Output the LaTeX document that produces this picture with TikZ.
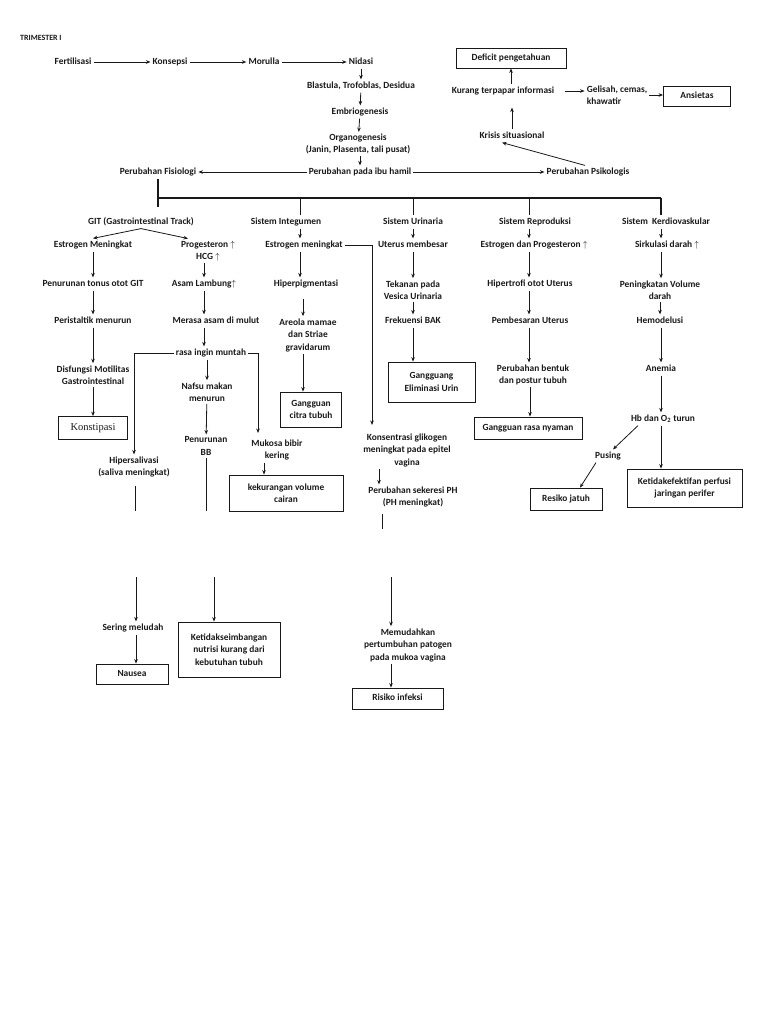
\documentclass[tikz,border=0pt]{standalone}
\usepackage{fontspec}
\setmainfont{Carlito}
\newfontfamily\serifteks{Liberation Serif}
\usetikzlibrary{arrows.meta, calc}
\definecolor{mainBlack}{gray}{0.1}

\tikzset{
  every node/.style={font=\fontsize{9.4}{12.5}\selectfont\bfseries, text=mainBlack, inner sep=2pt,
    align=center, text height=6.8pt, text depth=2pt},
  banyak/.style={text height=, text depth=},
  kotak/.style={draw=mainBlack, line width=0.8pt},
  panah/.style={->, line width=0.8pt, mainBlack},
  garis/.style={line width=0.8pt, mainBlack},
  tebal/.style={line width=1.5pt, mainBlack},
}

\begin{document}
\begin{tikzpicture}[x=1pt, y=-1pt, >={Stealth[length=4.5pt, width=3.6pt]}]
    \useasboundingbox (0,0) rectangle (768,1024);

    % judul
    \node[anchor=west, font=\fontsize{8}{10}\selectfont\bfseries] (judul) at (18,38) {TRIMESTER I};

    % alur utama
    \node (fert) at (73,62) {Fertilisasi};
    \node (kons) at (170,62) {Konsepsi};
    \node (mor) at (264,62) {Morulla};
    \node (nid) at (361,62) {Nidasi};
    \node (blas) at (361,86) {Blastula, Trofoblas, Desidua};
    \node (embr) at (360,112) {Embriogenesis};
    \node[banyak, font=\fontsize{9.4}{11.5}\selectfont\bfseries] (organ) at (358,144) {Organogenesis\\(Janin, Plasenta, tali pusat)};
    \node (ibu) at (360,172) {Perubahan pada ibu hamil};
    \node (fis) at (158,172) {Perubahan Fisiologi};
    \node (psi) at (588,172) {Perubahan Psikologis};

    \draw[panah] (fert) -- (kons);
    \draw[panah] (kons) -- (mor);
    \draw[panah] (mor) -- (nid);
    \draw[panah] (nid) -- (blas);
    \draw[panah] (blas) -- (embr);
    \draw[panah] (embr) -- (organ);
    \draw[panah] (organ.south -| ibu) -- (ibu);
    \draw[panah] (ibu) -- (fis);
    \draw[panah] (ibu) -- (psi);

    % psikologis
    \node (krisis) at (512,136) {Krisis situasional};
    \node (kurang) at (503,91) {Kurang terpapar informasi};
    \node[kotak, minimum width=110pt, minimum height=20pt] (deficit) at (511,58) {Deficit pengetahuan};
    \node[banyak, align=left] (gelisah) at (617,95) {Gelisah, cemas,\\khawatir};
    \node[kotak, minimum width=67pt, minimum height=20pt] (ansietas) at (697,96) {Ansietas};

    \draw[panah] ([xshift=-3pt]psi.north) -- ([xshift=-10pt]krisis.south);
    \draw[panah, shorten >=10pt] (krisis.north) -- (krisis.north |- kurang.south);
    \draw[panah] (deficit.south |- kurang.north) -- (deficit.south);
    \draw[panah, shorten <=9pt] (kurang.east) -- (gelisah.west |- kurang.east);
    \draw[panah] (gelisah.east) -- (ansietas.west |- gelisah.east);

    % percabangan sistem
    \coordinate (gitTop) at (158,207);
    \coordinate (barL) at (158,198);
    \coordinate (barR) at (661,198);
    \coordinate (tapInt) at (300,198);
    \coordinate (tapUri) at (413,198);
    \coordinate (tapRep) at (529,198);
    \coordinate (tapKar) at (661,198);
    \draw[tebal] (fis.south) -- (gitTop);
    \draw[garis, line width=1.1pt] (barL) -- (barR);

    % GIT
    \node (git) at (141,222) {GIT (Gastrointestinal Track)};
    \node (estA) at (93,245) {Estrogen Meningkat};
    \node[banyak] (prog) at (208,251) {Progesteron $\uparrow$\\HCG $\uparrow$};
    \node (penA) at (93,284) {Penurunan tonus otot GIT};
    \node (peri) at (93,321) {Peristaltik menurun};
    \node[banyak] (disf) at (93,375) {Disfungsi Motilitas\\Gastrointestinal};
    \node[kotak, minimum width=69pt, minimum height=23pt, font=\serifteks\fontsize{10.5}{12}\selectfont] (konst) at (93,428) {Konstipasi};

    \draw[panah] (git.south) -- (estA.north);
    \draw[panah] (git.south) -- ([xshift=-20pt]prog.north);
    \draw[panah] (estA) -- (penA);
    \draw[panah] (penA) -- (peri);
    \draw[panah] (peri) -- (disf);
    \draw[panah] (disf) -- (konst);

    \node (asam) at (204,284) {Asam Lambung$\uparrow$};
    \node (merasa) at (216,321) {Merasa asam di mulut};
    \node (muntah) at (211,353) {rasa ingin muntah};
    \node[banyak] (hiper) at (134,467) {Hipersalivasi\\(saliva meningkat)};
    \node[banyak] (nafsu) at (207,392) {Nafsu makan\\menurun};
    \node[banyak] (bb) at (206,446) {Penurunan\\BB};
    \node[banyak] (mukosa) at (277,450) {Mukosa bibir\\kering};
    \node[kotak, banyak, minimum width=114pt, minimum height=36pt] (cairan) at (286,493) {kekurangan volume\\cairan};
    \coordinate (mukTop) at (258,433);
    \coordinate (mukX) at (264,0);

    \draw[panah] (asam.north |- prog.south) -- (asam.north);
    \draw[panah] (asam.south) -- (asam.south |- merasa.north);
    \draw[panah] (merasa.south -| asam) -- (muntah.north -| asam);
    \draw[panah] (muntah.west) -| (hiper.north);
    \draw[panah] (muntah.east) -| (mukTop);
    \draw[panah] (muntah.south -| nafsu) -- (nafsu.north);
    \draw[panah] (nafsu) -- (bb);
    \draw[panah] (mukosa.south -| mukX) -- (cairan.north -| mukX);

    % lanjutan GIT bawah
    \coordinate (hipEnd) at (135,511);
    \coordinate (bbEnd) at (206,511);
    \coordinate (melTop) at (136,577);
    \coordinate (nutTop) at (214,577);
    \node (meludah) at (133,628) {Sering meludah};
    \node[kotak, minimum width=72pt, minimum height=20pt] (nausea) at (132,674) {Nausea};
    \node[kotak, banyak, minimum width=102pt, minimum height=55pt] (nutrisi) at (229,649.5) {Ketidakseimbangan\\nutrisi kurang dari\\kebutuhan tubuh};

    \draw[garis, shorten <=6pt] (hiper.south -| hipEnd) -- (hipEnd);
    \draw[garis] (bb.south) -- (bbEnd);
    \draw[panah] (melTop) -- (melTop |- meludah.north);
    \draw[panah] (meludah.south -| melTop) -- (nausea.north -| melTop);
    \draw[panah] (nutTop) -- (nutTop |- nutrisi.north);

    % integumen
    \node (integ) at (286,222) {Sistem Integumen};
    \node (estB) at (304,245) {Estrogen meningkat};
    \node (hiperp) at (306,284) {Hiperpigmentasi};
    \node[banyak] (areola) at (308,335) {Areola mamae\\dan Striae\\gravidarum};
    \node[kotak, banyak, minimum width=61pt, minimum height=35pt] (citra) at (311,409.5) {Gangguan\\citra tubuh};
    \coordinate (areX) at (303,0);

    \draw[garis] (tapInt) -- (tapInt |- integ.north);
    \draw[panah] (integ.south -| tapInt) -- (estB.north -| tapInt);
    \draw[panah] (estB.south -| tapInt) -- (hiperp.north -| tapInt);
    \draw[panah, shorten <=8pt] (hiperp.south -| areX) -- (areola.north -| areX);
    \draw[panah] (areola.south -| areX) -- (citra.north -| areX);

    % glikogen
    \coordinate (glikTop) at (372,425);
    \coordinate (glikX) at (379,0);
    \node[banyak] (glik) at (407,450) {Konsentrasi glikogen\\meningkat pada epitel\\vagina};
    \node[banyak] (ph) at (413,497) {Perubahan sekeresi PH\\(PH meningkat)};
    \coordinate (phEnd) at (382,529);
    \coordinate (patTop) at (391,577);
    \node[banyak] (patogen) at (408,645) {Memudahkan\\pertumbuhan patogen\\pada mukoa vagina};
    \node[kotak, minimum width=91pt, minimum height=21pt] (infeksi) at (397.5,698.5) {Risiko infeksi};

    \draw[panah] (estB.east) -| (glikTop);
    \draw[panah] (glik.south -| glikX) -- (ph.north -| glikX);
    \draw[garis, shorten <=4pt] (ph.south -| phEnd) -- (phEnd);
    \draw[panah] (patTop) -- (patTop |- patogen.north);
    \draw[panah] (patogen.south -| patTop) -- (infeksi.north -| patTop);

    % urinaria
    \node (uri) at (413,222) {Sistem Urinaria};
    \node (uterus) at (413,245) {Uterus membesar};
    \node[banyak] (tekanan) at (413,290) {Tekanan pada\\Vesica Urinaria};
    \node (bak) at (413,321) {Frekuensi BAK};
    \node[kotak, banyak, minimum width=87pt, minimum height=40pt] (elim) at (431.5,382) {Gangguang\\Eliminasi Urin};

    \draw[garis] (tapUri) -- (uri.north);
    \draw[panah] (uri) -- (uterus);
    \draw[panah] (uterus) -- (tekanan);
    \draw[panah] (tekanan) -- (bak);
    \draw[panah] (bak.south) -- (bak.south |- elim.north);

    % reproduksi
    \node (repro) at (535,222) {Sistem Reproduksi};
    \node (estC) at (534,245) {Estrogen dan Progesteron $\uparrow$};
    \node (hipert) at (530,284) {Hipertrofi otot Uterus};
    \node (pemb) at (530,321) {Pembesaran Uterus};
    \node[banyak] (bentuk) at (533,375) {Perubahan bentuk\\dan postur tubuh};
    \node[kotak, minimum width=108pt, minimum height=22pt] (nyaman) at (528,428) {Gangguan rasa nyaman};

    \draw[garis] (tapRep) -- (tapRep |- repro.north);
    \draw[panah] (repro.south -| tapRep) -- (estC.north -| tapRep);
    \draw[panah] (estC.south -| tapRep) -- (hipert.north -| tapRep);
    \draw[panah] (hipert.south -| tapRep) -- (pemb.north -| tapRep);
    \draw[panah] (pemb.south -| tapRep) -- (bentuk.north -| tapRep);
    \draw[panah] (bentuk.south -| hipert) -- (nyaman.north -| hipert);

    % kardiovaskular
    \node (kardio) at (666,222) {Sistem\ \ Kerdiovaskular};
    \node (sirk) at (667,245) {Sirkulasi darah $\uparrow$};
    \node[banyak] (vol) at (660,290) {Peningkatan Volume\\darah};
    \node (hemo) at (660,321) {Hemodelusi};
    \node (anemia) at (661,369) {Anemia};
    \node (hb) at (663,419) {Hb dan O\textsubscript{2} turun};
    \node (pusing) at (608,456) {Pusing};
    \node[kotak, banyak, minimum width=115pt, minimum height=38pt] (perfusi) at (684.5,488) {Ketidakefektifan perfusi\\jaringan perifer};
    \node[kotak, minimum width=72pt, minimum height=22pt] (jatuh) at (566,499) {Resiko jatuh};

    \draw[tebal] (tapKar) -- (tapKar |- kardio.north);
    \draw[panah] (kardio.south -| tapKar) -- (sirk.north -| tapKar);
    \draw[panah] (sirk.south -| tapKar) -- (vol.north -| tapKar);
    \draw[panah] (vol) -- (hemo);
    \draw[panah] (hemo.south -| tapKar) -- (anemia.north -| tapKar);
    \draw[panah] (anemia) -- (anemia |- hb.north);
    \draw[panah] ([xshift=-25pt]hb.south) -- ([xshift=5pt]pusing.north);
    \draw[panah] (hb.south -| anemia) -- (anemia |- perfusi.north);
    \draw[panah] ([xshift=-12pt]pusing.south) -- ([xshift=14pt]jatuh.north);
\end{tikzpicture}
\end{document}
